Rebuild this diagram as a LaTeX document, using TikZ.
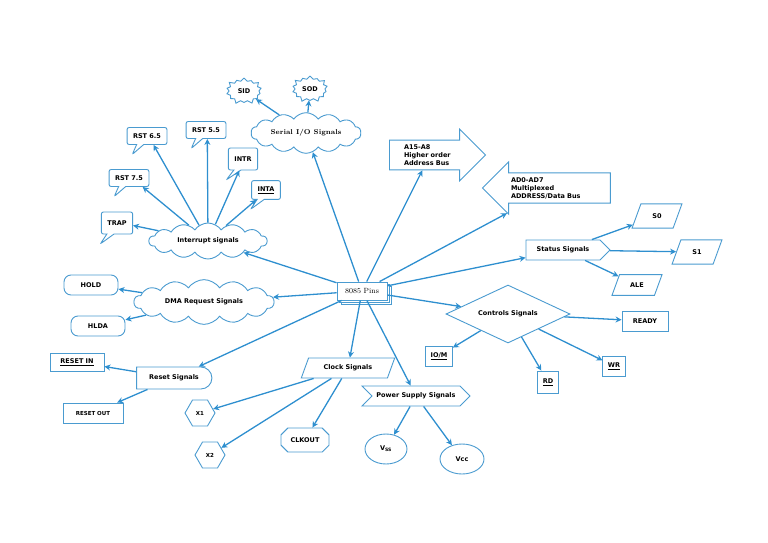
\documentclass[tikz,border=0pt]{standalone}
\usepackage{fontspec}
\setsansfont{DejaVu Sans}
\usetikzlibrary{shapes.symbols,shapes.callouts,shapes.arrows,shapes.geometric,shapes.misc,arrows.meta,shadows}
\definecolor{bl}{HTML}{2E8FCF}
\definecolor{bd}{HTML}{4A9BD0}
\tikzset{
 lbl/.style={font=\sffamily\bfseries\fontsize{6.5}{8}\selectfont, draw=bd, line width=0.9pt, fill=white},
 ln/.style={draw=bl, line width=1.3pt, -{Stealth[length=6pt,width=6pt]}},
 cl/.style={lbl, cloud, cloud puffs=14, cloud puff arc=110, aspect=3.5, inner sep=1pt},
 co/.style={lbl, rectangle callout, rounded corners=2pt, inner sep=6pt},
 para/.style={lbl, trapezium, trapezium left angle=70, trapezium right angle=110, inner sep=4pt},
 bx/.style={lbl, rectangle, inner sep=5pt},
}
\begin{document}
\begin{tikzpicture}[x=1pt,y=-1pt]
\useasboundingbox (0,0) rectangle (768,543);
% center
\node[lbl, font=\rmfamily\fontsize{7.5}{9}\selectfont, minimum width=50pt, minimum height=18pt, inner sep=2pt, double copy shadow={shadow xshift=2pt,shadow yshift=-2pt,draw=bd,fill=white}] (pins) at (362,291) {8085 Pins};
% top-left
\node[cl, minimum width=118pt, minimum height=36pt] (intr) at (208,241) {Interrupt signals};
\node[cl, font=\rmfamily\bfseries\fontsize{7}{8}\selectfont, minimum width=110pt, minimum height=36pt] (ser) at (306,133) {Serial I/O Signals};
\node[lbl, starburst, starburst points=14, starburst point height=4pt, minimum width=38pt, minimum height=28pt, inner sep=2pt] (sid) at (244,91) {SID};
\node[lbl, starburst, starburst points=14, starburst point height=4pt, minimum width=38pt, minimum height=28pt, inner sep=2pt] (sod) at (310,89) {SOD};
\node[co, callout relative pointer={(-8pt,-10pt)}] (r65) at (147,136) {RST 6.5};
\node[co, callout relative pointer={(-8pt,-10pt)}] (r55) at (206,130) {RST 5.5};
\node[co, callout relative pointer={(-8pt,-10pt)}, minimum height=22pt] (intrn) at (243,159) {INTR};
\node[co, callout relative pointer={(-8pt,-10pt)}] (inta) at (266,190) {\underline{INTA}};
\node[co, callout relative pointer={(-8pt,-10pt)}] (r75) at (129,178) {RST 7.5};
\node[co, callout relative pointer={(-8pt,-10pt)}, minimum height=22pt] (trap) at (117,223) {TRAP};
% arrows
\node[lbl, single arrow, single arrow head extend=11pt, minimum height=96pt, text width=52pt, align=left, inner sep=4pt] (a15) at (430,155) {A15-A8\\Higher order\\Address Bus};
\node[lbl, single arrow, shape border rotate=180, single arrow head extend=11pt, minimum height=128pt, text width=86pt, align=left, inner sep=4pt] (ad0) at (554,188) {AD0-AD7\\Multiplexed\\ADDRESS/Data Bus};
% status
\node[lbl, signal, signal to=east, minimum width=84pt, minimum height=20pt, inner sep=3pt] (stat) at (563,250) {Status Signals};
\node[para, minimum width=50pt, minimum height=18pt] (s0) at (657,216) {S0};
\node[para, minimum width=50pt, minimum height=18pt] (s1) at (697,252) {S1};
\node[para, minimum width=50pt, minimum height=18pt] (ale) at (637,285) {ALE};
% controls
\node[lbl, diamond, aspect=2.2, minimum width=124pt, minimum height=58pt, inner sep=1pt] (ctl) at (508,314) {Controls Signals};
\node[bx, minimum width=46pt, minimum height=20pt] (ready) at (645,321) {READY};
\node[bx, minimum height=20pt] (iom) at (439,356) {\underline{IO/M}};
\node[bx, minimum height=22pt] (rd) at (548,382) {\underline{RD}};
\node[bx, minimum height=20pt] (wr) at (614,366) {\underline{WR}};
% DMA
\node[cl, minimum width=140pt, minimum height=32pt] (dma) at (204,302) {DMA Request Signals};
\node[lbl, rounded corners=7pt, minimum width=54pt, minimum height=20pt] (hold) at (91,285) {HOLD};
\node[lbl, rounded corners=7pt, minimum width=54pt, minimum height=20pt] (hlda) at (98,326) {HLDA};
% reset
\node[lbl, rounded rectangle, rounded rectangle left arc=none, minimum width=82pt, minimum height=22pt] (rst) at (174,378) {Reset Signals};
\node[bx, minimum width=54pt, minimum height=18pt] (rin) at (77,362) {\underline{RESET IN}};
\node[bx, minimum width=60pt, minimum height=20pt, font=\sffamily\bfseries\fontsize{5.5}{7}\selectfont] (rout) at (93,413) {RESET OUT};
% clock
\node[para, minimum width=90pt, minimum height=20pt] (clk) at (348,368) {Clock Signals};
\node[lbl, regular polygon, regular polygon sides=6, minimum size=30pt, inner sep=0pt, font=\sffamily\bfseries\fontsize{5.5}{7}\selectfont] (x1) at (200,413) {X1};
\node[lbl, regular polygon, regular polygon sides=6, minimum size=30pt, inner sep=0pt, font=\sffamily\bfseries\fontsize{5.5}{7}\selectfont] (x2) at (210,455) {X2};
\node[lbl, chamfered rectangle, chamfered rectangle xsep=4pt, minimum width=48pt, minimum height=24pt] (clko) at (305,440) {CLKOUT};
% power
\node[lbl, signal, signal from=west, minimum width=108pt, minimum height=20pt, inner sep=3pt] (pow) at (416,396) {Power Supply Signals};
\node[lbl, ellipse, minimum width=42pt, minimum height=30pt, inner sep=0pt] (vss) at (386,449) {V\textsubscript{SS}};
\node[lbl, ellipse, minimum width=44pt, minimum height=30pt, inner sep=0pt] (vcc) at (462,459) {Vcc};
% connectors
\draw[ln] (pins) -- (intr);
\draw[ln] (pins) -- (ser);
\draw[ln] (pins) -- (a15);
\draw[ln] (pins) -- (ad0);
\draw[ln] (pins) -- (stat);
\draw[ln] (pins) -- (ctl);
\draw[ln] (pins) -- (dma);
\draw[ln] (pins) -- (rst);
\draw[ln] (pins) -- (clk);
\draw[ln] (pins) -- (pow);
\draw[ln] (intr) -- (trap);
\draw[ln] (intr) -- (r75);
\draw[ln] (intr) -- (r65);
\draw[ln] (intr) -- (r55);
\draw[ln] (intr) -- (intrn);
\draw[ln] (intr) -- (inta);
\draw[ln] (ser) -- (sid);
\draw[ln] (ser) -- (sod);
\draw[ln] (stat) -- (s0);
\draw[ln] (stat) -- (s1);
\draw[ln] (stat) -- (ale);
\draw[ln] (ctl) -- (ready);
\draw[ln] (ctl) -- (iom);
\draw[ln] (ctl) -- (rd);
\draw[ln] (ctl) -- (wr);
\draw[ln] (dma) -- (hold);
\draw[ln] (dma) -- (hlda);
\draw[ln] (rst) -- (rin);
\draw[ln] (rst) -- (rout);
\draw[ln] (clk) -- (x1);
\draw[ln] (clk) -- (x2);
\draw[ln] (clk) -- (clko);
\draw[ln] (pow) -- (vss);
\draw[ln] (pow) -- (vcc);
\end{tikzpicture}
\end{document}
